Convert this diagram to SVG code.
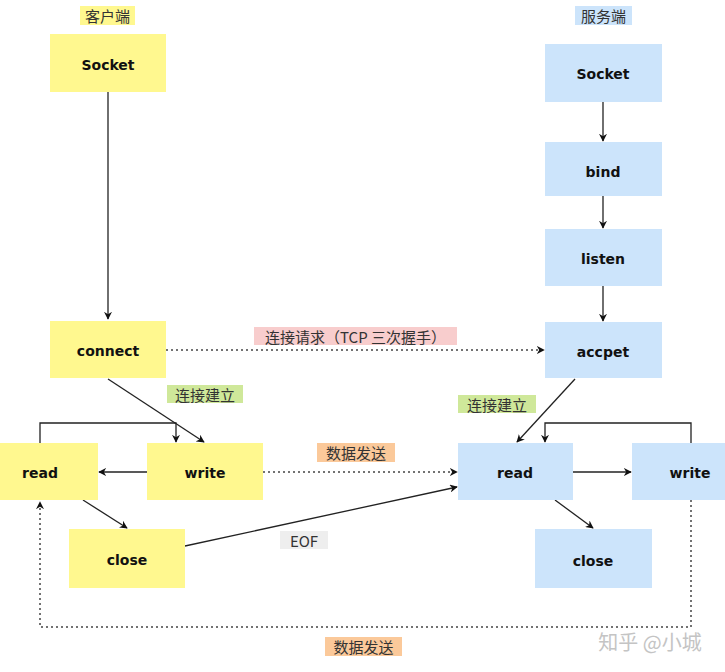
<svg xmlns="http://www.w3.org/2000/svg" width="725" height="672" viewBox="0 0 725 672">
<defs>
<marker id="ah" viewBox="0 0 10 10" refX="9" refY="5" markerWidth="8" markerHeight="8" markerUnits="userSpaceOnUse" orient="auto">
<path d="M0,0 L10,5 L0,10 L3,5 Z" fill="#111"/>
</marker>
<style>
.y{fill:#fff88f}
.b{fill:#cce4fb}
.t{font-family:"DejaVu Sans","Liberation Sans",sans-serif;font-weight:bold;font-size:14px;fill:#111;text-anchor:middle;dominant-baseline:central}
.l{font-family:"Noto Sans CJK SC","Liberation Sans",sans-serif;font-size:15px;fill:#333;text-anchor:middle;dominant-baseline:central}
.c{fill:none;stroke:#222;stroke-width:1.3}
.d{fill:none;stroke:#444;stroke-width:1.5;stroke-dasharray:2 3}
</style>
</defs>
<rect width="725" height="672" fill="#fff"/>
<g id="connectors">
<path class="c" d="M108,92 V319" marker-end="url(#ah)"/>
<path class="d" d="M166,350 H544" marker-end="url(#ah)"/>
<path class="c" d="M108,379 L204,442" marker-end="url(#ah)"/>
<path class="c" d="M40,443 V423 H176 V442" marker-end="url(#ah)"/>
<path class="c" d="M147,472 H99" marker-end="url(#ah)"/>
<path class="d" d="M263,472 H457" marker-end="url(#ah)"/>
<path class="c" d="M83,500 L127,528" marker-end="url(#ah)"/>
<path class="c" d="M185,546 L457,487" marker-end="url(#ah)"/>
<path class="c" d="M603,102 V141" marker-end="url(#ah)"/>
<path class="c" d="M603,196 V228" marker-end="url(#ah)"/>
<path class="c" d="M603,286 V321" marker-end="url(#ah)"/>
<path class="c" d="M575,379 L517,442" marker-end="url(#ah)"/>
<path class="c" d="M691,443 V423 H545 V442" marker-end="url(#ah)"/>
<path class="c" d="M573,472 H631" marker-end="url(#ah)"/>
<path class="c" d="M555,500 L593,528" marker-end="url(#ah)"/>
<path class="d" d="M691,500 V627 H40 V502" marker-end="url(#ah)"/>
</g>
<g id="label-client"><rect x="80" y="6" width="55" height="19" class="y"/><text x="107.5" y="15.5" class="l">客户端</text></g>
<g id="label-server"><rect x="575" y="6" width="57" height="19" class="b"/><text x="603.5" y="15.5" class="l">服务端</text></g>
<g id="c-socket"><rect x="50" y="34" width="116" height="58" class="y"/><text x="108" y="65" class="t">Socket</text></g>
<g id="c-connect"><rect x="50" y="321" width="116" height="57" class="y"/><text x="108" y="351" class="t">connect</text></g>
<g id="c-read"><rect x="0" y="443" width="98" height="57" class="y"/><text x="40" y="473" class="t">read</text></g>
<g id="c-write"><rect x="147" y="443" width="116" height="57" class="y"/><text x="205" y="473" class="t">write</text></g>
<g id="c-close"><rect x="69" y="529" width="116" height="59" class="y"/><text x="127" y="560" class="t">close</text></g>
<g id="s-socket"><rect x="545" y="44" width="117" height="58" class="b"/><text x="603" y="74" class="t">Socket</text></g>
<g id="s-bind"><rect x="545" y="142" width="117" height="54" class="b"/><text x="603" y="172" class="t">bind</text></g>
<g id="s-listen"><rect x="545" y="229" width="117" height="57" class="b"/><text x="603" y="259" class="t">listen</text></g>
<g id="s-accpet"><rect x="545" y="322" width="117" height="56" class="b"/><text x="603" y="352" class="t">accpet</text></g>
<g id="s-read"><rect x="458" y="443" width="115" height="57" class="b"/><text x="515" y="473" class="t">read</text></g>
<g id="s-write"><rect x="632" y="443" width="93" height="57" class="b"/><text x="690" y="473" class="t">write</text></g>
<g id="s-close"><rect x="535" y="529" width="117" height="59" class="b"/><text x="593" y="561" class="t">close</text></g>
<g id="lbl-req"><rect x="254" y="327" width="203" height="18" fill="#f8cdcd"/><text x="355.5" y="336" class="l">连接请求（TCP 三次握手）</text></g>
<g id="lbl-est1"><rect x="167" y="385" width="76" height="18" fill="#cfe89a"/><text x="205" y="394" class="l">连接建立</text></g>
<g id="lbl-est2"><rect x="458" y="395" width="78" height="18" fill="#cfe89a"/><text x="497" y="404" class="l">连接建立</text></g>
<g id="lbl-data1"><rect x="317" y="443" width="78" height="19" fill="#fbc99a"/><text x="356" y="452.5" class="l">数据发送</text></g>
<g id="lbl-eof"><rect x="280" y="531" width="48" height="18" fill="#eeeeee"/><text x="304" y="540" class="l">EOF</text></g>
<g id="lbl-data2"><rect x="325" y="637" width="77" height="19" fill="#fbc99a"/><text x="363.5" y="646.5" class="l">数据发送</text></g>
<text x="650" y="641" font-family="Noto Sans CJK SC,sans-serif" font-size="20" fill="#c4c4c4" text-anchor="middle" dominant-baseline="central">知乎 @小城</text>
</svg>
